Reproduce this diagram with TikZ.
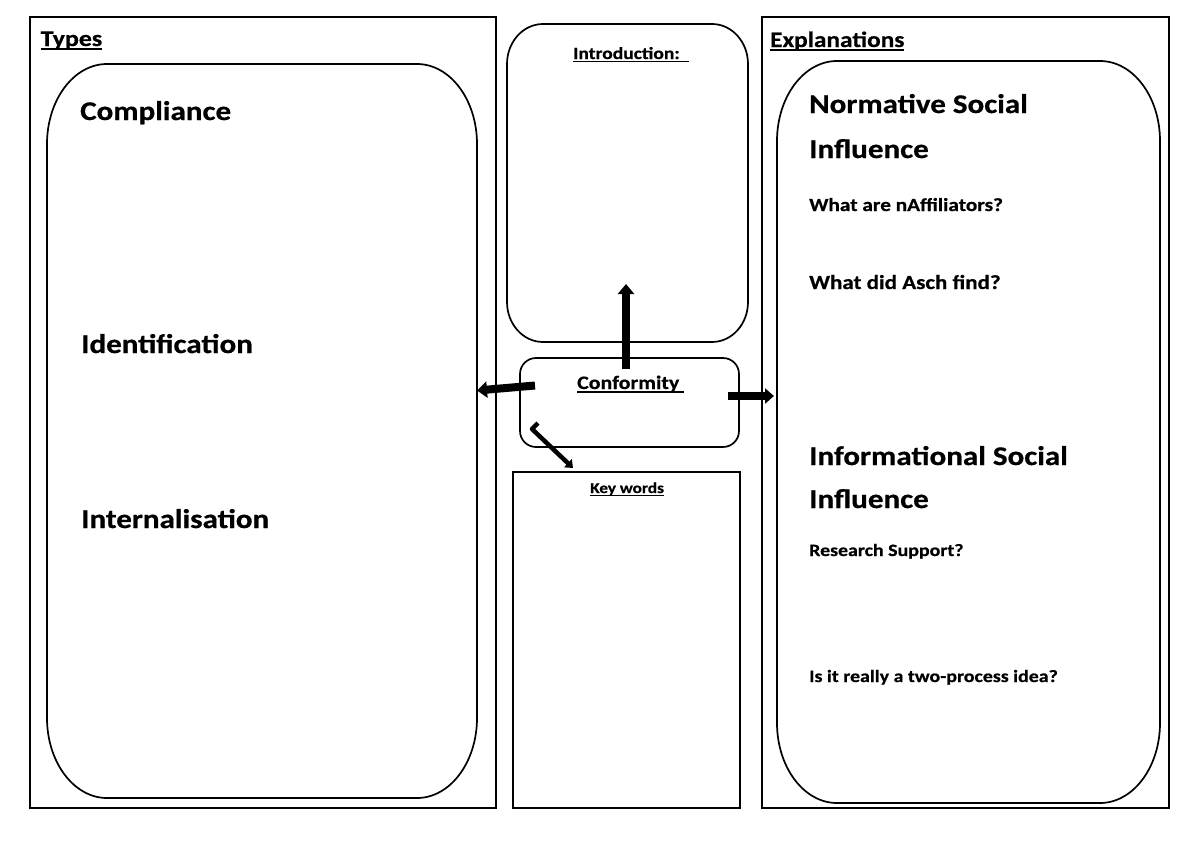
\documentclass[tikz,border=0pt]{standalone}
\usepackage{fontspec}
\setmainfont{Carlito}[FakeStretch=1.15,BoldFeatures={FakeBold=0.6}]
\usetikzlibrary{arrows.meta}
\newcommand{\fs}[1]{\fontsize{#1}{#1}\selectfont\bfseries}
\newcommand{\ulx}[1]{\vtop{\hbox{\raisebox{0pt}[\height][0pt]{#1}}\kern0.11em\hrule height 0.085em}}
% x1 y1 x2 y2 rx ry  (screen coordinates, y downwards)
\newcommand{\ebox}[6]{%
  \draw[boxline] (#1+#5,#2) -- (#3-#5,#2)
    arc[start angle=270,end angle=360,x radius=#5,y radius=#6] -- (#3,#4-#6)
    arc[start angle=0,end angle=90,x radius=#5,y radius=#6] -- (#1+#5,#4)
    arc[start angle=90,end angle=180,x radius=#5,y radius=#6] -- (#1,#2+#6)
    arc[start angle=180,end angle=270,x radius=#5,y radius=#6] -- cycle;}
\begin{document}
\begin{tikzpicture}[x=1pt,y=-1pt,
  boxline/.style={line width=1.7pt,draw=black},
  frame/.style={boxline,rectangle,inner sep=0pt},
  area/.style={rectangle,inner sep=0pt,draw=none},
  lbl/.style={inner sep=0pt,anchor=base west},
  blockarrow/.style={line width=8pt,-{Triangle[width=16pt,length=10pt]}},
  thinarrow/.style={line width=4.5pt,line join=round,-{Triangle[width=11pt,length=7pt]}},
]
\useasboundingbox (0,0) rectangle (1200,849);

% outer frames
\node[frame,minimum width=466pt,minimum height=791pt] (typesframe) at (263,412.5) {};
\node[frame,minimum width=407pt,minimum height=791pt] (explframe) at (965.5,412.5) {};
\node[frame,minimum width=227pt,minimum height=336pt] (keywords) at (626.5,640) {};

% rounded boxes
\ebox{47}{64}{477}{798}{60}{80}
\node[area,minimum width=430pt,minimum height=734pt] (typesbox) at (262,431) {};
\ebox{777}{61}{1160}{803}{60}{80}
\node[area,minimum width=383pt,minimum height=742pt] (explbox) at (968.5,432) {};
\ebox{507}{24}{748}{342}{36}{40}
\node[area,minimum width=241pt,minimum height=318pt] (intro) at (627.5,183) {};
\ebox{520}{358}{739}{447}{16}{16}
\node[area,minimum width=219pt,minimum height=89pt] (conf) at (629.5,402.5) {};

% texts
\node[lbl,font=\fs{22.5}] (tTypes) at (40.5,46) {\ulx{Types}};
\node[lbl,font=\fs{27}] (tComp) at (80,120) {Compliance};
\node[lbl,font=\fs{27}] (tIdent) at (81,353) {Identification};
\node[lbl,font=\fs{27}] (tInt) at (81,528) {Internalisation};
\node[lbl,font=\fs{17}] (tIntro) at (573,59) {\ulx{Introduction:\ \ }};
\node[lbl,font=\fs{19}] (tConf) at (577,389) {\ulx{Conformity\ }};
\node[lbl,font=\fs{15}] (tKey) at (590,493) {\ulx{Key words}};
\node[lbl,font=\fs{22}] (tExpl) at (770,47) {\ulx{Explanations}};
\node[lbl,font=\fs{27}] (tNorm) at (809,113) {Normative Social};
\node[lbl,font=\fs{27}] (tNorm2) at (809,158) {Influence};
\node[lbl,font=\fs{18.5}] (tAff) at (809,211) {What are nAffiliators?};
\node[lbl,font=\fs{20}] (tAsch) at (809,289) {What did Asch find?};
\node[lbl,font=\fs{27}] (tInf) at (809,465) {Informational Social};
\node[lbl,font=\fs{27}] (tInf2) at (809,508) {Influence};
\node[lbl,font=\fs{17.3}] (tRes) at (809,556) {Research Support?};
\node[lbl,font=\fs{17.3}] (tTwo) at (809,682) {Is it really a two-process idea?};

% arrow end points
\coordinate (upS) at (626,369);
\coordinate (upE) at (626,284);
\coordinate (lS) at (535,385.5);
\coordinate (lE) at (477,390.5);
\coordinate (rS) at (728,396);
\coordinate (rE) at (774,396);
\coordinate (hA) at (538,423);
\coordinate (hB) at (532,429);
\coordinate (hE) at (573,468);

\draw[blockarrow] (upS) -- (upE);
\draw[blockarrow] (lS) -- (lE);
\draw[blockarrow,-{Triangle[width=15pt,length=9pt]}] (rS) -- (rE);
\draw[thinarrow] (hA) -- (hB) -- (hE);
\end{tikzpicture}
\end{document}
